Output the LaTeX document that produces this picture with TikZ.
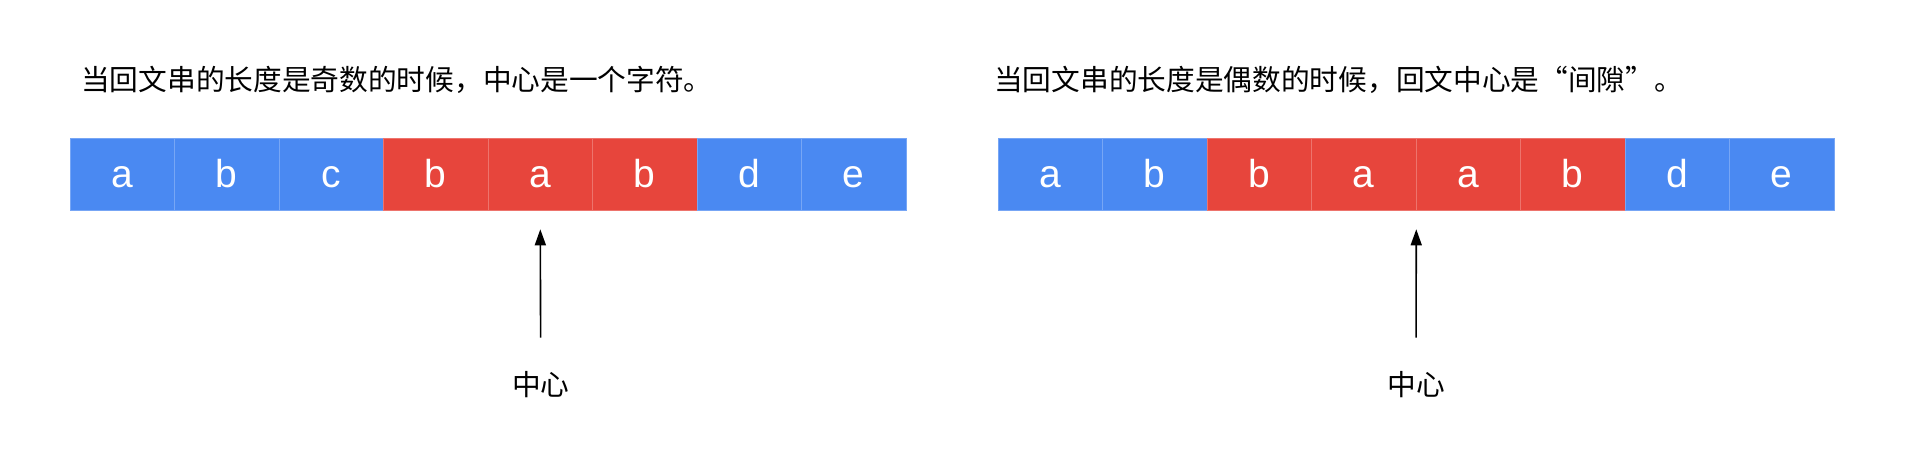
\documentclass[tikz,border=0pt]{standalone}
\usepackage{fontspec}
\setmainfont{Liberation Sans}
\newfontfamily\cjk{Noto Sans CJK SC}
\usetikzlibrary{positioning, arrows.meta}
\definecolor{CellBlue}{HTML}{4A89F2}
\definecolor{CellRed}{HTML}{E7453C}
\begin{document}
\begin{tikzpicture}[x=1pt, y=1pt,
    cell/.style={minimum width=104.5pt, minimum height=72pt, inner sep=0pt,
        text height=28pt, text depth=0pt, text=white, line width=0.6pt,
        font=\fontsize{39}{44}\selectfont},
    caption/.style={inner sep=0pt, font=\cjk\fontsize{28.7}{34}\selectfont},
    pointer/.style={-{Triangle[length=16pt, width=11pt]}, line width=1.6pt,
        shorten <=34pt, shorten >=19pt}]
    \useasboundingbox (0,0) rectangle (1914,452);
    % odd length: centre is one character
    \node[caption, anchor=base west] (oddtitle) at (81,361) {当回文串的长度是奇数的时候，中心是一个字符。};
    \foreach \i/\c/\col in {1/a/CellBlue, 2/b/CellBlue, 3/c/CellBlue, 4/b/CellRed,
                            5/a/CellRed, 6/b/CellRed, 7/d/CellBlue, 8/e/CellBlue} {
        \node[cell, fill=\col, draw=\col!75!white] (l\i) at ({70+(\i-0.5)*104.5}, 278) {\c};
    }
    \node[caption, anchor=base] (lmid) at (540.7,56) {中心};
    \draw[pointer] (lmid.north) -- (l5.south);
    % even length: centre is a gap
    \node[caption, anchor=base west] (eventitle) at (994,361) {当回文串的长度是偶数的时候，回文中心是“间隙”。};
    \foreach \i/\c/\col in {1/a/CellBlue, 2/b/CellBlue, 3/b/CellRed, 4/a/CellRed,
                            5/a/CellRed, 6/b/CellRed, 7/d/CellBlue, 8/e/CellBlue} {
        \node[cell, fill=\col, draw=\col!75!white] (r\i) at ({998+(\i-0.5)*104.5}, 278) {\c};
    }
    \node[caption, anchor=base] (rmid) at (1416,56) {中心};
    \draw[pointer] (rmid.north) -- (r4.south east);
\end{tikzpicture}
\end{document}
